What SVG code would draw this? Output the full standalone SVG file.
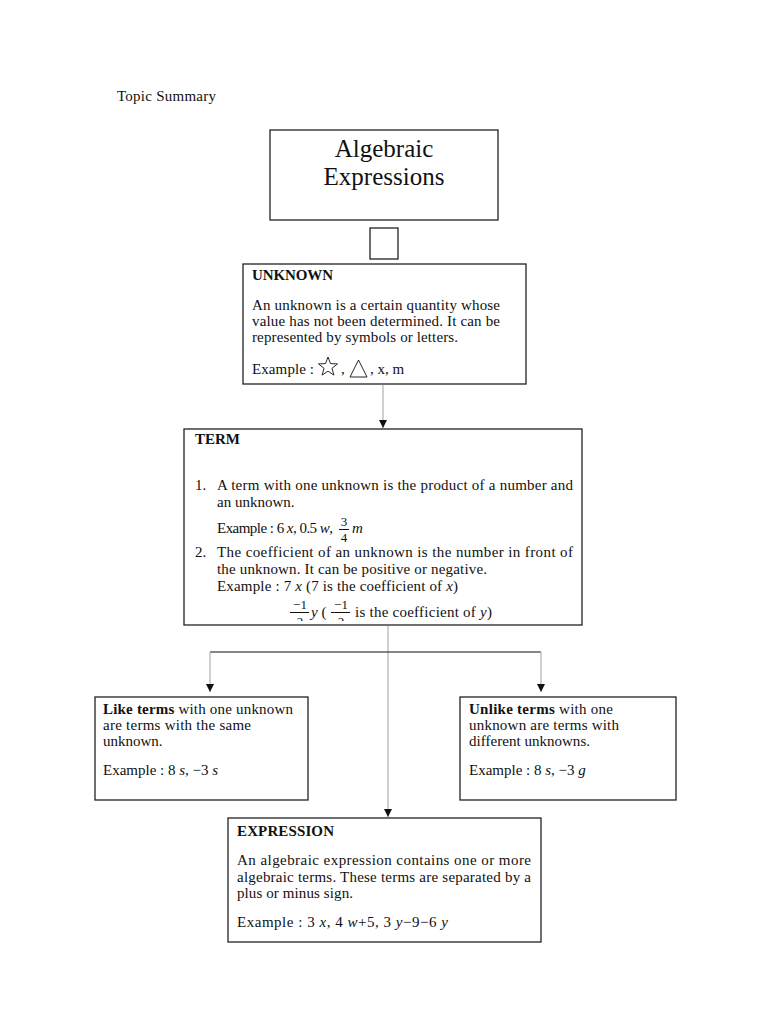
<svg xmlns="http://www.w3.org/2000/svg" width="768" height="1024" viewBox="0 0 768 1024">
<style>
.t{font-family:"Liberation Serif","Times New Roman",serif;font-size:15px;fill:#111}
.b{font-weight:bold}
.m{font-family:"Liberation Serif","Times New Roman",serif;font-style:italic}
.fr{font-family:"Liberation Serif","Times New Roman",serif;font-size:13px;fill:#111;text-anchor:middle}
.box{fill:#fff;stroke:#222;stroke-width:1.3}
.ttl{font-family:"Liberation Serif","Times New Roman",serif;font-size:25px;fill:#111;text-anchor:middle}
.c{stroke:#b0b0b0;stroke-width:1.2;fill:none}
.fl{stroke:#111;stroke-width:1}
</style>
<defs>
<marker id="ah" viewBox="0 0 8 8" refX="8" refY="4" markerWidth="8" markerHeight="8" markerUnits="userSpaceOnUse" orient="auto">
<path d="M0,0 L8,4 L0,8 Z" fill="#111"/>
</marker>
<clipPath id="termclip"><rect x="184" y="429" width="398" height="192"/></clipPath>
</defs>
<rect width="768" height="1024" fill="#fff"/>

<text class="t" x="117" y="101" textLength="99">Topic Summary</text>

<g id="title">
<rect class="box" x="270" y="130" width="228" height="90"/>
<text class="ttl" x="384" y="157">Algebraic</text>
<text class="ttl" x="384" y="185">Expressions</text>
</g>

<g id="blank">
<rect class="box" x="370" y="228" width="28" height="31"/>
</g>

<g id="unknown">
<rect class="box" x="243" y="264" width="283" height="120"/>
<text class="t b" x="252" y="280" textLength="81">UNKNOWN</text>
<text class="t" x="252" y="310" textLength="248">An unknown is a certain quantity whose</text>
<text class="t" x="252" y="326" textLength="248">value has not been determined. It can be</text>
<text class="t" x="252" y="342" textLength="206">represented by symbols or letters.</text>
<text class="t" x="252" y="374" textLength="62">Example :</text>
<polygon points="328,357 330.5,363.6 337.5,363.9 332,368.3 333.9,375.1 328,371.2 322.1,375.1 324,368.3 318.5,363.9 325.5,363.6" fill="none" stroke="#111" stroke-width="0.9"/>
<text class="t" x="341" y="374">,</text>
<polygon points="350,377 367,377 358.5,360" fill="none" stroke="#111" stroke-width="0.9"/>
<text class="t" x="370" y="374">, x, m</text>
</g>

<g id="term">
<rect class="box" x="184" y="429" width="398" height="196"/>
<text class="t b" x="195" y="444" textLength="45">TERM</text>
<text class="t" x="195" y="490">1.</text>
<text class="t" x="217" y="490" textLength="356">A term with one unknown is the product of a number and</text>
<text class="t" x="217" y="507">an unknown.</text>
<text class="t" x="217" y="533" textLength="116">Example : 6 <tspan class="m">x</tspan>, 0.5 <tspan class="m">w</tspan>,</text>
<text class="fr" x="344" y="526">3</text>
<line class="fl" x1="339" y1="529.5" x2="349" y2="529.5"/>
<text class="fr" x="344" y="542">4</text>
<text class="t m" x="352" y="533">m</text>
<text class="t" x="195" y="557">2.</text>
<text class="t" x="217" y="557" textLength="356">The coefficient of an unknown is the number in front of</text>
<text class="t" x="217" y="574" textLength="270">the unknown. It can be positive or negative.</text>
<text class="t" x="217" y="591" textLength="241">Example : 7 <tspan class="m">x</tspan> (7 is the coefficient of <tspan class="m">x</tspan>)</text>
<g clip-path="url(#termclip)">
<text class="fr" x="300" y="609">−1</text>
<line class="fl" x1="290" y1="612.5" x2="309" y2="612.5"/>
<text class="fr" x="300" y="626">2</text>
<text class="fr" x="341" y="609">−1</text>
<line class="fl" x1="331" y1="612.5" x2="350" y2="612.5"/>
<text class="fr" x="341" y="626">2</text>
</g>
<text class="t" x="311" y="617"><tspan class="m">y</tspan> (</text>
<text class="t" x="355" y="617" textLength="137">is the coefficient of <tspan class="m">y</tspan>)</text>
</g>

<g id="like">
<rect class="box" x="95" y="697" width="213" height="103"/>
<text class="t" x="103" y="714" textLength="190"><tspan class="b">Like terms</tspan> with one unknown</text>
<text class="t" x="103" y="730" textLength="148">are terms with the same</text>
<text class="t" x="103" y="746">unknown.</text>
<text class="t" x="103" y="775">Example : 8 <tspan class="m">s</tspan>, −3 <tspan class="m">s</tspan></text>
</g>

<g id="unlike">
<rect class="box" x="460" y="697" width="216" height="103"/>
<text class="t" x="469" y="714" textLength="144"><tspan class="b">Unlike terms</tspan> with one</text>
<text class="t" x="469" y="730" textLength="150">unknown are terms with</text>
<text class="t" x="469" y="746" textLength="121">different unknowns.</text>
<text class="t" x="469" y="775">Example : 8 <tspan class="m">s</tspan>, −3 <tspan class="m">g</tspan></text>
</g>

<g id="expression">
<rect class="box" x="228" y="818" width="313" height="124"/>
<text class="t b" x="237" y="836" textLength="97">EXPRESSION</text>
<text class="t" x="237" y="865" textLength="294">An algebraic expression contains one or more</text>
<text class="t" x="237" y="882" textLength="294">algebraic terms. These terms are separated by a</text>
<text class="t" x="237" y="898" textLength="116">plus or minus sign.</text>
<text class="t" x="237" y="927" textLength="211">Example : 3 <tspan class="m">x</tspan>, 4 <tspan class="m">w</tspan>+5, 3 <tspan class="m">y</tspan>−9−6 <tspan class="m">y</tspan></text>
</g>

<g id="connectors">
<line class="c" x1="383" y1="385" x2="383" y2="428" marker-end="url(#ah)"/>
<line class="c" x1="388" y1="626" x2="388" y2="817" marker-end="url(#ah)"/>
<line x1="210" y1="652" x2="541" y2="652" stroke="#111" stroke-width="1.2"/>
<line class="c" x1="210" y1="652" x2="210" y2="692" marker-end="url(#ah)"/>
<line class="c" x1="541" y1="652" x2="541" y2="692" marker-end="url(#ah)"/>
</g>
</svg>
